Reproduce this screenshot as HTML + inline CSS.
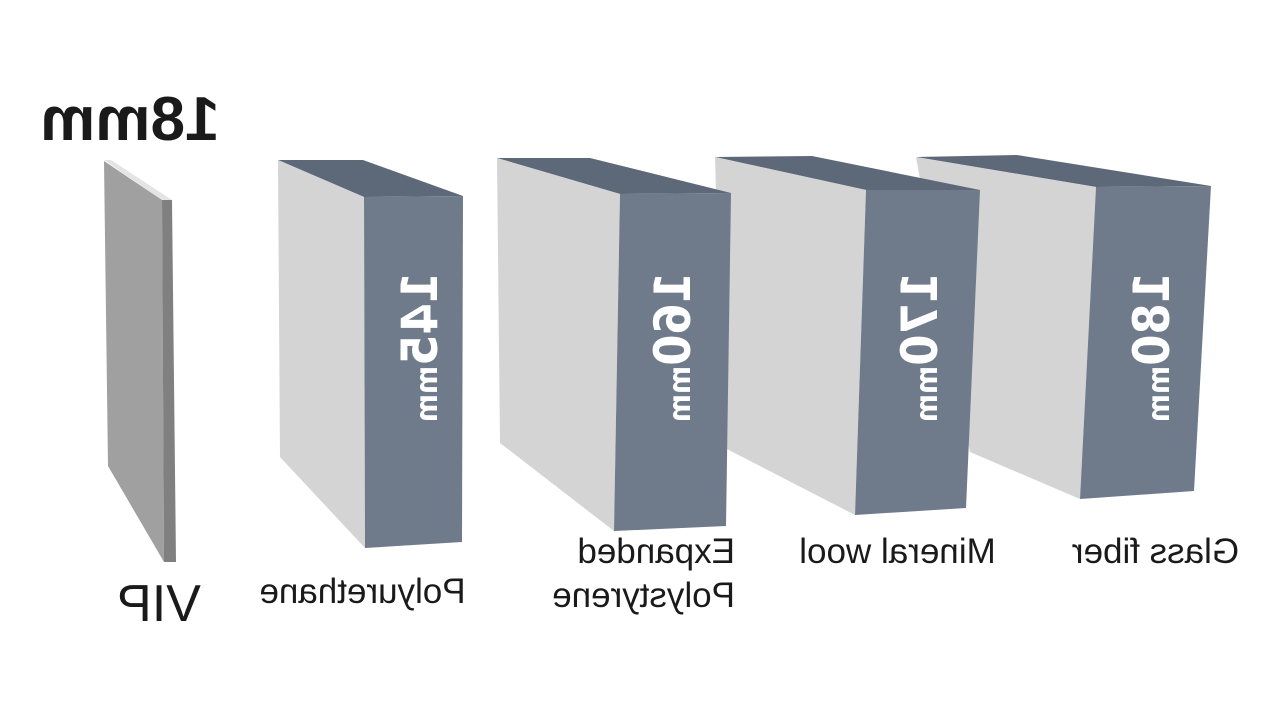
<!DOCTYPE html>
<html><head><meta charset="utf-8"><style>
body{margin:0;width:1280px;height:720px;background:#fff;position:relative;overflow:hidden;font-family:"Liberation Sans",sans-serif}
.t{position:absolute;transform:scaleX(-1);white-space:nowrap;color:#1a1a1a}
.v{position:absolute;color:#fff;font-weight:bold;white-space:nowrap;font-family:"DejaVu Sans Condensed","Liberation Sans Narrow",sans-serif;transform:translate(-50%,-50%) scaleX(-1) rotate(90deg);font-size:50px;line-height:1}
.v small{font-size:30px}
</style></head><body>
<svg width="1280" height="720" style="position:absolute;left:0;top:0">
<g>
<polygon points="916,157 1017,155 1211,186 1096,187" fill="#5d6979"/>
<polygon points="916,157 1096,187 1080,499 970,452" fill="#d4d4d4"/>
<polygon points="1096,187 1211,186 1194,491 1080,499" fill="#6f7b8b"/>
</g>
<g>
<polygon points="715,157 812,156 980,190 866,190" fill="#5d6979"/>
<polygon points="715,157 866,190 855,515 723,447" fill="#d4d4d4"/>
<polygon points="866,190 980,190 966,508 855,515" fill="#6f7b8b"/>
</g>
<g>
<polygon points="497,158 590,158 731,193 620,194" fill="#5d6979"/>
<polygon points="497,158 620,194 614,531 500,443" fill="#d4d4d4"/>
<polygon points="620,194 731,193 726,526 614,531" fill="#6f7b8b"/>
</g>
<g>
<polygon points="278,160 363,160 463,196 364,197" fill="#5d6979"/>
<polygon points="278,160 364,197 365,548 280,457" fill="#d4d4d4"/>
<polygon points="364,197 463,196 462,542 365,548" fill="#6f7b8b"/>
</g>
<g>
<polygon points="104,160 111,160 172,200 162,200" fill="#e4e4e4"/>
<polygon points="104,161 162,200 164,562 108,466" fill="#a0a0a0"/>
<polygon points="162,200 172,200 176,562 164,562" fill="#808080"/>
</g>
</svg>
<div class="v" style="left:420px;top:347px">145<small>mm</small></div>
<div class="v" style="left:673px;top:347px">160<small>mm</small></div>
<div class="v" style="left:920px;top:347px">170<small>mm</small></div>
<div class="v" style="left:1152px;top:347px">180<small>mm</small></div>
<div class="t" style="left:30px;top:84px;font-size:62px;font-weight:bold;width:200px;text-align:center">18mm</div>
<div class="t" style="left:105px;top:574px;font-size:52px;width:108px;text-align:center">VIP</div>
<div class="t" style="left:245px;top:572px;font-size:35px;width:235px;text-align:center">Polyurethane</div>
<div class="t" style="left:540px;top:530px;font-size:35px;width:195px;text-align:left;line-height:44px">Expanded<br>Polystyrene</div>
<div class="t" style="left:785px;top:532px;font-size:35px;width:225px;text-align:center">Mineral wool</div>
<div class="t" style="left:1058px;top:532px;font-size:35px;width:195px;text-align:center">Glass fiber</div>
</body></html>
